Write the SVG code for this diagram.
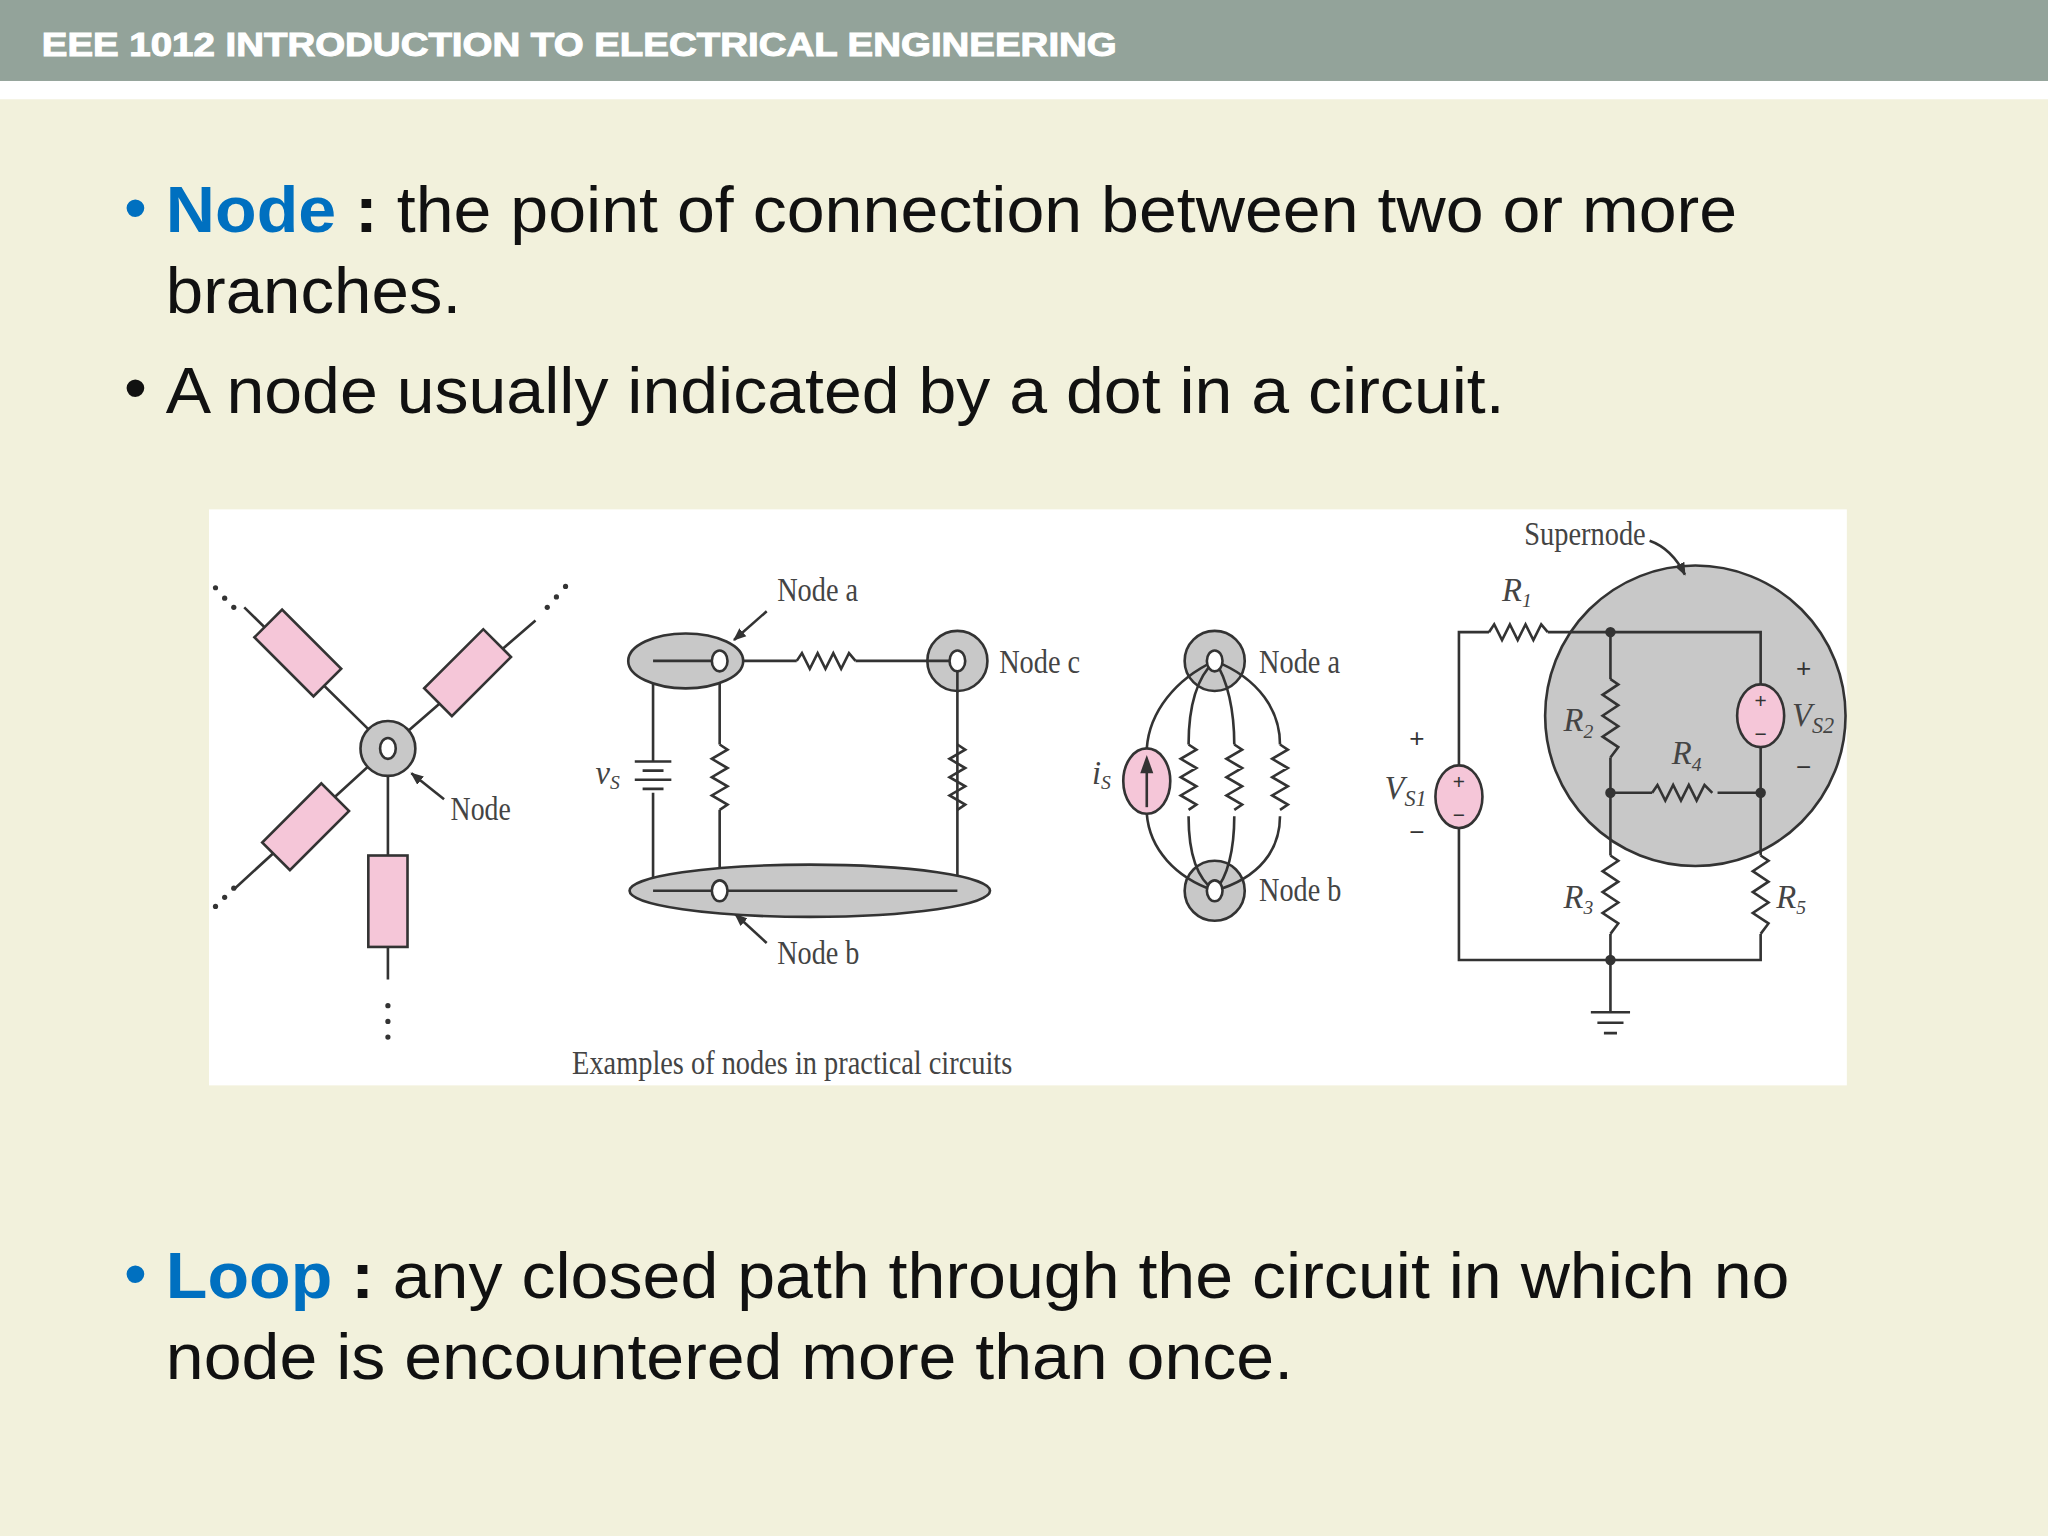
<svg xmlns="http://www.w3.org/2000/svg" width="2048" height="1536" viewBox="0 0 2048 1536">
<style>
.w{fill:none;stroke:#333;stroke-width:2}
.g{fill:#c8c8c8;stroke:#333;stroke-width:2}
.p{fill:#f5c6d8;stroke:#333;stroke-width:2}
.n{fill:#fff;stroke:#333;stroke-width:2}
.lb{font-family:"Liberation Serif",serif;font-size:26px;fill:#444}
.it{font-family:"Liberation Serif",serif;font-size:25px;fill:#444;font-style:italic}
.b{font-family:"Liberation Sans",Arial,sans-serif;font-size:50px;fill:#111}
.bl{fill:#0070c0;font-weight:bold}
</style>
<defs>
<marker id="ar" markerWidth="10" markerHeight="10" refX="9" refY="5" orient="auto" markerUnits="userSpaceOnUse"><path d="M0,1 L10,5 L0,9 z" fill="#333"/></marker>
</defs>
<g transform="scale(1.30612)">
<rect x="0" y="0" width="1568" height="1176" fill="#f2f1dc"/>
<rect x="0" y="0" width="1568" height="62" fill="#93a39a"/>
<rect x="0" y="62" width="1568" height="14" fill="#fff"/>
<text x="32" y="43" font-family="Liberation Sans,Arial,sans-serif" font-weight="900" font-size="25" fill="#fff" textLength="823" lengthAdjust="spacingAndGlyphs" stroke="#fff" stroke-width="0.8">EEE 1012 INTRODUCTION TO ELECTRICAL ENGINEERING</text>
<g id="text1">
<text x="95" y="176" class="b" font-size="34" style="fill:#0070c0">•</text>
<text x="127" y="178" class="b" textLength="1203" lengthAdjust="spacingAndGlyphs"><tspan class="bl">Node</tspan><tspan font-weight="bold"> :</tspan> the point of connection between two or more</text>
<text x="127" y="240" class="b" textLength="226" lengthAdjust="spacingAndGlyphs">branches.</text>
<text x="95" y="314" class="b" font-size="34">•</text>
<text x="127" y="316" class="b" textLength="1025" lengthAdjust="spacingAndGlyphs">A node usually indicated by a dot in a circuit.</text>
</g>
<g id="text2">
<text x="95" y="992" class="b" font-size="34" style="fill:#0070c0">•</text>
<text x="127" y="994" class="b" textLength="1243" lengthAdjust="spacingAndGlyphs"><tspan class="bl">Loop</tspan><tspan font-weight="bold"> :</tspan> any closed path through the circuit in which no</text>
<text x="127" y="1056" class="b" textLength="863" lengthAdjust="spacingAndGlyphs">node is encountered more than once.</text>
</g>
<rect x="160" y="390" width="1254" height="441" fill="#fff"/>
<g id="connectors">
<path class="w" d="M297,573 L187,465 M297,573 L410,475 M297,573 L180,680 M297,573 L297,750"/>
<g fill="#333"><circle cx="165" cy="450" r="2"/><circle cx="172" cy="458" r="2"/><circle cx="179" cy="465" r="2"/><circle cx="419" cy="465" r="2"/><circle cx="426" cy="457" r="2"/><circle cx="433" cy="449" r="2"/><circle cx="165" cy="694" r="2"/><circle cx="172" cy="687" r="2"/><circle cx="179" cy="680" r="2"/><circle cx="297" cy="770" r="2"/><circle cx="297" cy="782" r="2"/><circle cx="297" cy="794" r="2"/></g>
<path class="w" d="M551,506 L500,506 L500,583 M500,607 L500,682 L733,682 L733,506 M551,506 L610,506 M655,506 L733,506 M551,506 L551,570 M551,620 L551,682"/>
<path class="w" d="M610,506 l4,-6 l6,12 l6,-12 l6,12 l6,-12 l6,12 l6,-12 l5,6"/>
<path class="w" d="M551,570 l6,4 l-12,7 l12,7 l-12,7 l12,7 l-12,7 l12,7 l-6,4"/>
<path class="w" d="M733,570 l6,4 l-12,7 l12,7 l-12,7 l12,7 l-12,7 l12,7 l-6,4"/>
<path class="w" d="M486,583 h28 M492,590 h16 M486,597 h28 M492,604 h16"/>
<path class="w" d="M910,570 l6,4 l-12,7 l12,7 l-12,7 l12,7 l-12,7 l12,7 l-6,4 M945,570 l6,4 l-12,7 l12,7 l-12,7 l12,7 l-12,7 l12,7 l-6,4 M980,570 l6,4 l-12,7 l12,7 l-12,7 l12,7 l-12,7 l12,7 l-6,4"/>
<circle cx="1298" cy="548" r="115" class="g"/>
<path class="w" d="M1117,586 L1117,484 L1140,484 M1185,484 L1348,484 L1348,524 M1348,572 L1348,655 M1348,715 L1348,735 L1117,735 L1117,634 M1233,484 L1233,520 M1233,580 L1233,655 M1233,607 L1265,607 M1315,607 L1348,607 M1233,715 L1233,775"/>
<path class="w" d="M1140,484 l4,-6 l6,12 l6,-12 l6,12 l6,-12 l6,12 l6,-12 l5,6 M1265,607 l4,-6 l6,12 l6,-12 l6,12 l6,-12 l6,12 l6,-12 l6,6"/>
<path class="w" d="M1233,520 l6,4 l-12,8 l12,8 l-12,8 l12,8 l-12,8 l12,8 l-6,8 M1233,655 l6,4 l-12,8 l12,8 l-12,8 l12,8 l-12,8 l12,8 l-6,8 M1348,655 l6,4 l-12,8 l12,8 l-12,8 l12,8 l-12,8 l12,8 l-6,8"/>
<path class="w" d="M1218,775 h30 M1223,783 h20 M1228,791 h10"/>
<g fill="#333"><circle cx="1233" cy="484" r="4"/><circle cx="1233" cy="607" r="4"/><circle cx="1348" cy="607" r="4"/><circle cx="1233" cy="735" r="4"/></g>
<path class="w" stroke-width="1.5" d="M340,612 L315,592" marker-end="url(#ar)"/>
<path class="w" stroke-width="1.5" d="M587,468 L562,490" marker-end="url(#ar)"/>
<path class="w" stroke-width="1.5" d="M587,722 L563,700" marker-end="url(#ar)"/>
<path class="w" stroke-width="1.5" d="M1263,414 Q1280,420 1290,440" marker-end="url(#ar)"/>
</g>
<g id="node-c1">
<rect x="-15" y="-32" width="30" height="64" class="p" transform="translate(228,500) rotate(-45)"/>
<rect x="-15" y="-32" width="30" height="64" class="p" transform="translate(358,515) rotate(45)"/>
<rect x="-15" y="-32" width="30" height="64" class="p" transform="translate(234,633) rotate(45)"/>
<rect x="282" y="655" width="30" height="70" class="p"/>
<circle cx="297" cy="573" r="21" class="g"/>
<ellipse cx="297" cy="573" rx="6" ry="8" class="n"/>
<text x="345" y="628" class="lb" textLength="46" lengthAdjust="spacingAndGlyphs">Node</text>
</g>
<g id="node-a2">
<ellipse cx="525" cy="506" rx="44" ry="21" class="g"/>
<path class="w" d="M500,506 L551,506"/>
<ellipse cx="551" cy="506" rx="6" ry="8" class="n"/>
<text x="595" y="460" class="lb" textLength="62" lengthAdjust="spacingAndGlyphs">Node a</text>
</g>
<g id="node-c2">
<circle cx="733" cy="506" r="23" class="g"/>
<path class="w" d="M710,506 L733,506 L733,530"/>
<ellipse cx="733" cy="506" rx="6" ry="8" class="n"/>
<text x="765" y="515" class="lb" textLength="62" lengthAdjust="spacingAndGlyphs">Node c</text>
</g>
<g id="node-b2">
<ellipse cx="620" cy="682" rx="138" ry="20" class="g"/>
<path class="w" d="M500,682 L733,682"/>
<ellipse cx="551" cy="682" rx="6" ry="8" class="n"/>
<text x="595" y="738" class="lb" textLength="63" lengthAdjust="spacingAndGlyphs">Node b</text>
<text x="456" y="600" class="it" font-size="22">v<tspan font-size="15" dy="4">S</tspan></text>
</g>
<g id="node-a3">
<circle cx="930" cy="506" r="23" class="g"/>
<path class="w" d="M930,506 C900,520 880,545 878,573 M930,506 C915,520 910,545 910,570 M930,506 C940,520 945,545 945,570 M930,506 C965,520 980,545 980,570"/>
<ellipse cx="930" cy="506" rx="6" ry="8" class="n"/>
<text x="964" y="515" class="lb" textLength="62" lengthAdjust="spacingAndGlyphs">Node a</text>
</g>
<g id="node-b3">
<circle cx="930" cy="682" r="23" class="g"/>
<path class="w" d="M930,682 C900,672 880,650 878,623 M930,682 C915,672 910,650 910,625 M930,682 C940,672 945,650 945,625 M930,682 C965,672 980,650 980,625"/>
<ellipse cx="930" cy="682" rx="6" ry="8" class="n"/>
<text x="964" y="690" class="lb" textLength="63" lengthAdjust="spacingAndGlyphs">Node b</text>
</g>
<g id="source-is">
<ellipse cx="878" cy="598" rx="18" ry="25" class="p"/>
<path class="w" d="M878,618 L878,585"/>
<path d="M873,592 L878,578 L883,592 z" fill="#333"/>
<text x="836" y="600" class="it" font-size="22">i<tspan font-size="15" dy="4">S</tspan></text>
</g>
<g id="source-vs1">
<ellipse cx="1117" cy="610" rx="18" ry="24" class="p"/>
<text x="1117" y="604" font-family="Liberation Sans,sans-serif" font-size="16" text-anchor="middle" fill="#333">+</text>
<text x="1117" y="629" font-family="Liberation Sans,sans-serif" font-size="16" text-anchor="middle" fill="#333">−</text>
<text x="1079" y="572" font-family="Liberation Sans,sans-serif" font-size="20" fill="#333">+</text>
<text x="1079" y="644" font-family="Liberation Sans,sans-serif" font-size="20" fill="#333">−</text>
<text x="1060" y="612" class="it">V<tspan font-size="17" dy="5">S1</tspan></text>
</g>
<g id="source-vs2">
<ellipse cx="1348" cy="548" rx="18" ry="24" class="p"/>
<text x="1348" y="542" font-family="Liberation Sans,sans-serif" font-size="16" text-anchor="middle" fill="#333">+</text>
<text x="1348" y="567" font-family="Liberation Sans,sans-serif" font-size="16" text-anchor="middle" fill="#333">−</text>
<text x="1375" y="518" font-family="Liberation Sans,sans-serif" font-size="20" fill="#333">+</text>
<text x="1375" y="594" font-family="Liberation Sans,sans-serif" font-size="20" fill="#333">−</text>
<text x="1372" y="556" class="it">V<tspan font-size="17" dy="5">S2</tspan></text>
</g>
<g id="supernode">
<text x="1167" y="417" class="lb" textLength="93" lengthAdjust="spacingAndGlyphs">Supernode</text>
<text x="1150" y="460" class="it">R<tspan font-size="15" dy="5">1</tspan></text>
<text x="1197" y="560" class="it">R<tspan font-size="15" dy="5">2</tspan></text>
<text x="1280" y="585" class="it">R<tspan font-size="15" dy="5">4</tspan></text>
<text x="1197" y="695" class="it">R<tspan font-size="15" dy="5">3</tspan></text>
<text x="1360" y="695" class="it">R<tspan font-size="15" dy="5">5</tspan></text>
</g>
<text x="438" y="822" class="lb" textLength="337" lengthAdjust="spacingAndGlyphs">Examples of nodes in practical circuits</text>
</g>
</svg>
